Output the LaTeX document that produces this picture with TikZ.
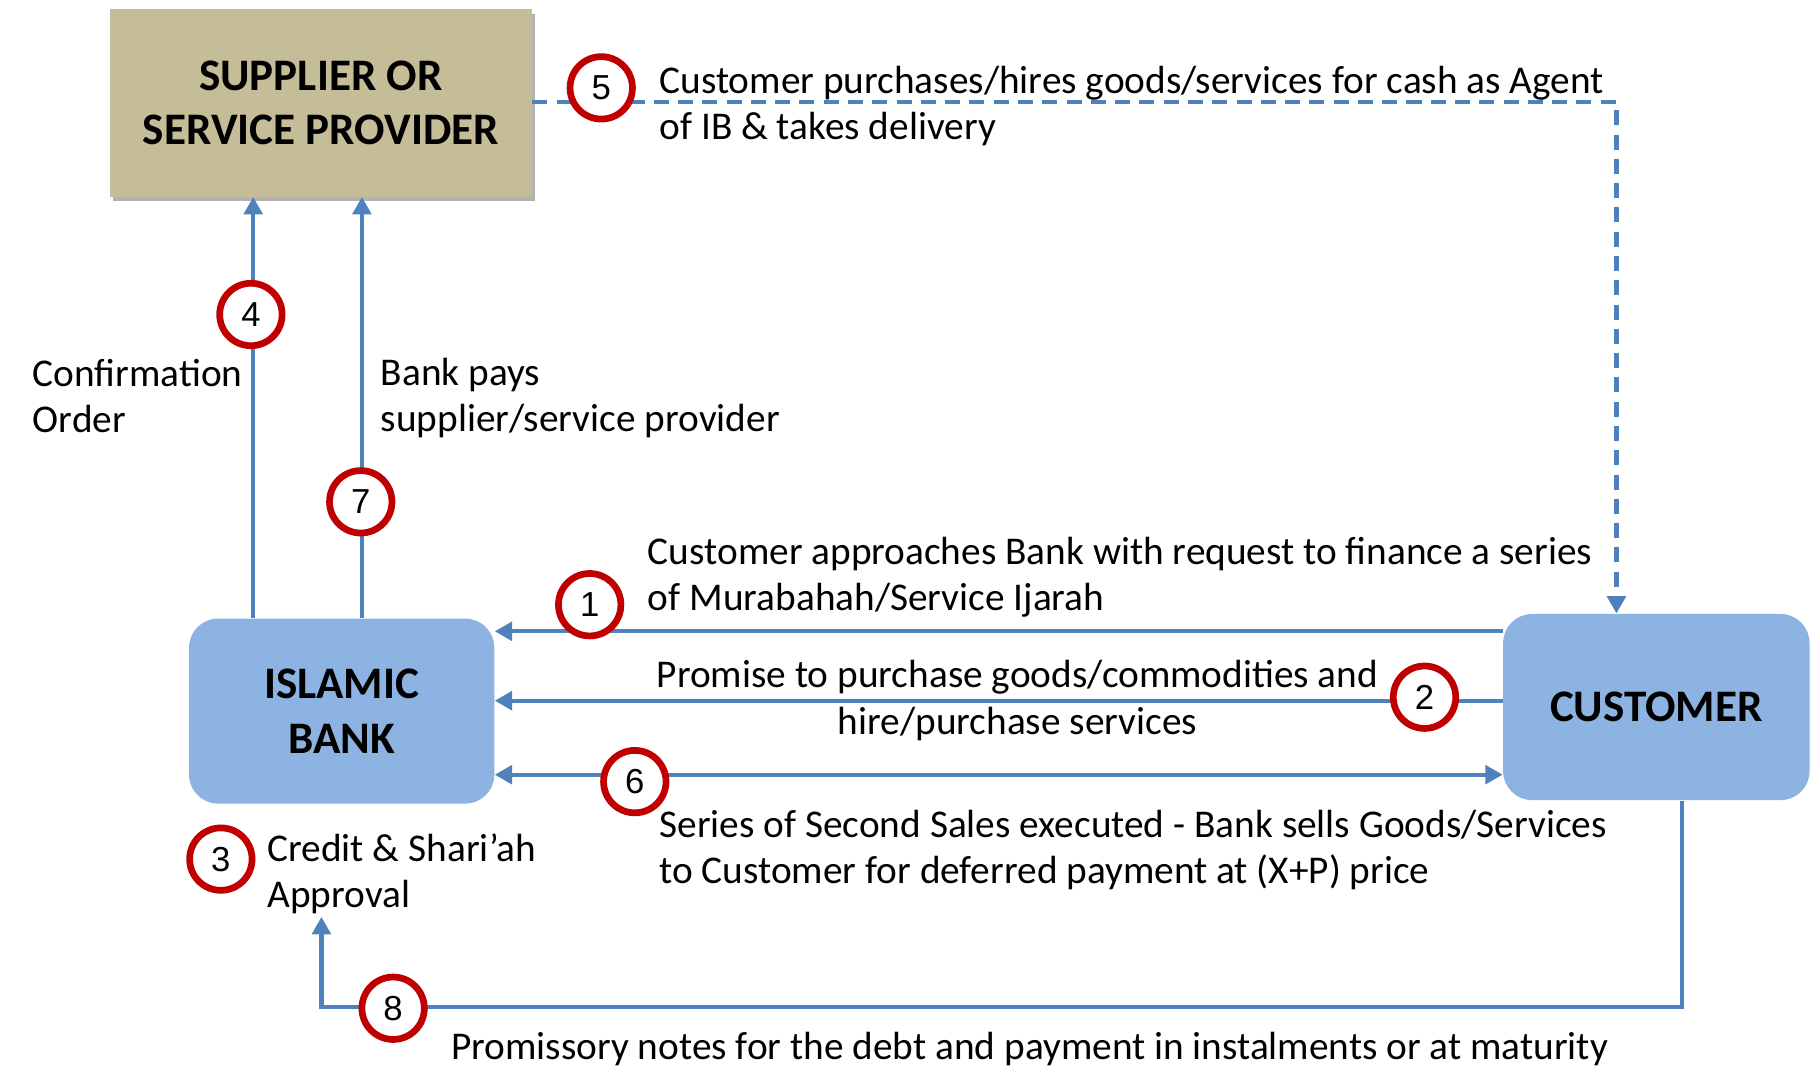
\documentclass[tikz,border=0pt]{standalone}
\usepackage{fontspec}
\setmainfont{Carlito}
\newfontfamily\numfont{Liberation Sans}
\usetikzlibrary{arrows.meta,shadows,calc}
\definecolor{arrblue}{HTML}{4F81BD}
\definecolor{boxblue}{HTML}{8DB3E2}
\definecolor{suptan}{HTML}{C4BD97}
\definecolor{numred}{HTML}{C00000}
\tikzset{
  boxtext/.style={font=\fontsize{19.5}{23.5}\selectfont\bfseries, align=center, inner sep=0pt},
  bluebox/.style={boxtext, rounded corners=12.5pt, fill=boxblue, minimum width=132pt, minimum height=80pt},
  supbox/.style={boxtext, fill=suptan, minimum width=182.5pt, minimum height=81pt,
     drop shadow={shadow xshift=1.5pt, shadow yshift=-2pt, fill=black, opacity=0.3}},
  arr/.style={draw=arrblue, line width=1.8pt, -{Triangle[length=7.5pt,width=8pt]}},
  arrboth/.style={draw=arrblue, line width=1.8pt, {Triangle[length=7.5pt,width=8pt]}-{Triangle[length=7.5pt,width=8pt]}},
  dasharr/.style={arr, dash pattern=on 6.5pt off 4pt},
  num/.style={circle, draw=numred, line width=2.9pt, fill=white, minimum size=27pt, inner sep=0pt,
     font=\numfont\fontsize{15}{15}\selectfont},
  lbl/.style={font=\fontsize{17}{20}\selectfont, inner sep=0pt},
}
\begin{document}
\begin{tikzpicture}[x=0.5pt,y=-0.5pt]
\useasboundingbox (0,0) rectangle (1568,936);

% boxes
\node[supbox] (sup) at (277.5,89) {SUPPLIER OR\\SERVICE PROVIDER};
\node[bluebox] (bank) at (295.5,615) {ISLAMIC\\BANK};
\node[bluebox, minimum width=132.5pt, minimum height=80.5pt] (cust) at (1432.5,611.5) {CUSTOMER};

% helper coordinates
\coordinate (v4) at (219,0);
\coordinate (v7) at (313,0);
\coordinate (v5) at (1398,0);
\coordinate (v8) at (1455,0);
\coordinate (h5) at (0,88);
\coordinate (h1) at (0,546);
\coordinate (h2) at (0,606);
\coordinate (h6) at (0,670);
\coordinate (h8) at (0,871);
\coordinate (a8) at (278,793);

% connectors
\draw[arr] (v4 |- bank.north) -- (v4 |- sup.south);
\draw[arr] (v7 |- bank.north) -- (v7 |- sup.south);
\draw[dasharr] (sup.east |- h5) -- (v5 |- h5) -- (v5 |- cust.north);
\draw[arr] (cust.west |- h1) -- (bank.east |- h1);
\draw[arr] (cust.west |- h2) -- (bank.east |- h2);
\draw[arrboth] (bank.east |- h6) -- (cust.west |- h6);
\draw[arr] (v8 |- cust.south) -- (v8 |- h8) -- (a8 |- h8) -- (a8);

% numbered circles
\node[num] (n5) at (520,76) {5};
\node[num] (n4) at (217,272) {4};
\node[num] (n7) at (312,434) {7};
\node[num] (n1) at (510,523) {1};
\node[num] (n2) at (1232,603) {2};
\node[num] (n6) at (549,676) {6};
\node[num] (n3) at (191,743) {3};
\node[num] (n8) at (340,872) {8};

% labels (base anchor = baseline of last line)
\node[lbl, anchor=base west, align=left] (t5) at (570,121) {Customer purchases/hires goods/services for cash as Agent\\of IB \& takes delivery};
\node[lbl, anchor=base west, align=left] (t4) at (28,374) {Confirmation\\Order};
\node[lbl, anchor=base west, align=left] (t7) at (329,373) {Bank pays\\supplier/service provider};
\node[lbl, anchor=base west, align=left] (t1) at (560,528) {Customer approaches Bank with request to finance a series\\of Murabahah/Service Ijarah};
\node[lbl, anchor=base, align=center] (t2) at (880,635) {Promise to purchase goods/commodities and\\hire/purchase services};
\node[lbl, anchor=base west, align=left] (t6) at (570,764) {Series of Second Sales executed - Bank sells Goods/Services\\to Customer for deferred payment at (X+P) price};
\node[lbl, anchor=base west, align=left] (t3) at (231,785) {Credit \& Shari’ah\\Approval};
\node[lbl, anchor=base west] (t8) at (390,916) {Promissory notes for the debt and payment in instalments or at maturity};
\end{tikzpicture}
\end{document}
